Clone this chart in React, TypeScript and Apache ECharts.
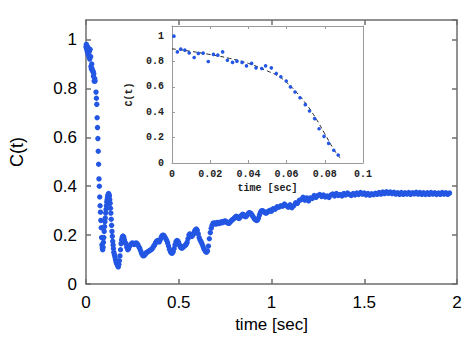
import React, { useEffect, useRef } from "react";
import * as echarts from "echarts";

// Main series: [time (s), C(t)]
const mainEarly: number[][] = [
  [0.0, 0.97], [0.002, 0.98], [0.004, 0.96], [0.007, 0.95], [0.009, 0.97], [0.011, 0.94],
  [0.013, 0.96], [0.016, 0.93], [0.018, 0.95], [0.02, 0.92], [0.022, 0.96], [0.025, 0.93],
  [0.027, 0.89], [0.029, 0.88], [0.031, 0.9], [0.033, 0.88], [0.036, 0.87], [0.038, 0.87],
  [0.04, 0.85], [0.042, 0.86], [0.044, 0.83], [0.047, 0.84], [0.049, 0.83],
  [0.054, 0.785], [0.056, 0.76], [0.058, 0.735], [0.06, 0.68], [0.062, 0.64], [0.064, 0.595],
  [0.066, 0.543], [0.068, 0.49], [0.07, 0.43], [0.072, 0.4], [0.074, 0.356], [0.076, 0.32],
  [0.078, 0.294], [0.08, 0.26], [0.082, 0.23], [0.084, 0.19], [0.086, 0.16], [0.088, 0.147],
];
const mainDip: number[][] = [
  [0.09, 0.14], [0.092, 0.15], [0.094, 0.17], [0.096, 0.19], [0.098, 0.215], [0.1, 0.235],
  [0.102, 0.255], [0.104, 0.27], [0.106, 0.29], [0.108, 0.305], [0.11, 0.32], [0.112, 0.335],
  [0.114, 0.345], [0.116, 0.355], [0.118, 0.362], [0.12, 0.367], [0.122, 0.37], [0.124, 0.365],
  [0.126, 0.36], [0.128, 0.345], [0.13, 0.33], [0.132, 0.31], [0.134, 0.29], [0.136, 0.265],
  [0.138, 0.24], [0.14, 0.215], [0.142, 0.195], [0.144, 0.175], [0.146, 0.16], [0.148, 0.145],
  [0.15, 0.13], [0.153, 0.12], [0.156, 0.11], [0.159, 0.1], [0.162, 0.09], [0.165, 0.085],
  [0.168, 0.08], [0.171, 0.075], [0.174, 0.07], [0.177, 0.08], [0.18, 0.095], [0.183, 0.115],
  [0.186, 0.14], [0.189, 0.165], [0.192, 0.18], [0.195, 0.19], [0.198, 0.195], [0.201, 0.195],
  [0.204, 0.19], [0.207, 0.18], [0.21, 0.17],
];
const mainMid: number[][] = [
  [0.215, 0.165], [0.22, 0.15], [0.225, 0.14], [0.23, 0.145], [0.235, 0.155], [0.24, 0.16],
  [0.245, 0.165], [0.25, 0.168], [0.255, 0.165], [0.26, 0.162], [0.265, 0.165], [0.27, 0.168],
  [0.275, 0.165], [0.28, 0.16], [0.285, 0.152], [0.29, 0.145], [0.295, 0.135], [0.3, 0.125],
  [0.305, 0.118], [0.31, 0.115], [0.315, 0.118], [0.32, 0.122], [0.325, 0.128], [0.33, 0.13],
  [0.335, 0.133], [0.34, 0.135], [0.345, 0.138], [0.35, 0.14], [0.355, 0.143], [0.36, 0.148],
  [0.365, 0.155], [0.37, 0.16], [0.375, 0.168], [0.38, 0.175], [0.385, 0.178], [0.39, 0.175],
  [0.395, 0.172], [0.4, 0.18], [0.405, 0.19], [0.41, 0.197], [0.415, 0.2], [0.42, 0.198],
  [0.425, 0.192], [0.43, 0.185], [0.435, 0.178], [0.44, 0.168], [0.445, 0.155], [0.45, 0.142],
  [0.455, 0.132], [0.46, 0.127], [0.465, 0.126], [0.47, 0.132], [0.475, 0.145], [0.48, 0.16],
  [0.485, 0.172], [0.49, 0.178], [0.495, 0.176], [0.5, 0.168], [0.505, 0.158], [0.51, 0.15],
  [0.515, 0.147], [0.52, 0.148], [0.525, 0.152], [0.53, 0.155], [0.535, 0.158], [0.54, 0.162],
  [0.545, 0.17], [0.55, 0.185], [0.555, 0.2], [0.56, 0.205], [0.565, 0.2], [0.57, 0.195],
  [0.575, 0.198], [0.58, 0.205], [0.585, 0.215], [0.59, 0.222], [0.595, 0.225], [0.6, 0.22],
  [0.605, 0.205], [0.61, 0.19], [0.615, 0.18], [0.62, 0.173], [0.625, 0.165], [0.63, 0.155],
  [0.635, 0.145], [0.64, 0.138], [0.645, 0.132], [0.65, 0.13], [0.655, 0.135], [0.66, 0.155],
  [0.665, 0.185], [0.67, 0.21], [0.675, 0.228], [0.68, 0.24], [0.685, 0.248], [0.69, 0.25],
  [0.695, 0.248], [0.7, 0.245],
];
const mainRise: number[][] = [
  [0.705, 0.25], [0.71, 0.252], [0.715, 0.247], [0.72, 0.249], [0.725, 0.253], [0.73, 0.25],
  [0.735, 0.255], [0.74, 0.252], [0.745, 0.256], [0.75, 0.258], [0.755, 0.255], [0.76, 0.252],
  [0.765, 0.25], [0.77, 0.248], [0.775, 0.252], [0.78, 0.256], [0.785, 0.26], [0.79, 0.263],
  [0.795, 0.266], [0.8, 0.27], [0.805, 0.274], [0.81, 0.277], [0.815, 0.275], [0.82, 0.27],
  [0.825, 0.268], [0.83, 0.272], [0.835, 0.278], [0.84, 0.282], [0.845, 0.285], [0.85, 0.283],
  [0.855, 0.278], [0.86, 0.275], [0.865, 0.278], [0.87, 0.283], [0.875, 0.288], [0.88, 0.292],
  [0.885, 0.29], [0.89, 0.288], [0.895, 0.282], [0.9, 0.276], [0.905, 0.27], [0.91, 0.265],
  [0.915, 0.262], [0.92, 0.26], [0.925, 0.262], [0.93, 0.27], [0.935, 0.282], [0.94, 0.292],
  [0.945, 0.298], [0.95, 0.3], [0.955, 0.298], [0.96, 0.295], [0.965, 0.292], [0.97, 0.29],
  [0.975, 0.292], [0.98, 0.296], [0.985, 0.298], [0.99, 0.3], [0.995, 0.302],
];
const mainLate: number[][] = [
  [1.0, 0.298], [1.01, 0.308], [1.02, 0.306], [1.03, 0.316], [1.04, 0.314], [1.05, 0.32],
  [1.06, 0.318], [1.07, 0.327], [1.08, 0.32], [1.09, 0.314], [1.1, 0.324], [1.11, 0.312],
  [1.12, 0.32], [1.13, 0.332], [1.14, 0.33], [1.15, 0.342], [1.16, 0.345], [1.17, 0.355],
  [1.18, 0.343], [1.19, 0.352], [1.2, 0.34], [1.21, 0.352], [1.22, 0.35], [1.23, 0.362],
  [1.24, 0.354], [1.25, 0.362], [1.26, 0.366], [1.27, 0.358], [1.28, 0.364], [1.29, 0.356],
  [1.3, 0.36], [1.31, 0.354], [1.32, 0.364], [1.33, 0.368], [1.34, 0.36], [1.35, 0.37],
  [1.36, 0.362], [1.37, 0.366], [1.38, 0.36], [1.39, 0.37], [1.4, 0.364], [1.41, 0.372],
  [1.42, 0.366], [1.43, 0.362], [1.44, 0.37], [1.45, 0.364], [1.46, 0.372], [1.47, 0.366],
  [1.48, 0.374], [1.49, 0.368], [1.5, 0.372], [1.51, 0.364], [1.52, 0.37], [1.53, 0.363],
  [1.54, 0.369], [1.55, 0.365], [1.56, 0.371], [1.57, 0.367], [1.58, 0.374], [1.59, 0.368],
  [1.6, 0.376], [1.61, 0.37], [1.62, 0.377], [1.63, 0.371], [1.64, 0.376], [1.65, 0.37],
  [1.66, 0.375], [1.67, 0.368], [1.68, 0.373], [1.69, 0.367], [1.7, 0.374], [1.71, 0.367],
  [1.72, 0.373], [1.73, 0.368], [1.74, 0.374], [1.75, 0.367], [1.76, 0.373], [1.77, 0.369],
  [1.78, 0.375], [1.79, 0.368], [1.8, 0.374], [1.81, 0.367], [1.82, 0.373], [1.83, 0.366],
  [1.84, 0.373], [1.85, 0.367], [1.86, 0.374], [1.87, 0.368], [1.88, 0.373], [1.89, 0.366],
  [1.9, 0.372], [1.91, 0.367], [1.92, 0.374], [1.93, 0.368], [1.94, 0.373], [1.95, 0.367],
  [1.96, 0.372],
];

// Inset: measured points and dashed fit
const insetPoints: number[][] = [
  [0.001, 1.0], [0.0028, 0.876], [0.0046, 0.898], [0.0067, 0.89], [0.009, 0.868],
  [0.0116, 0.832], [0.0138, 0.864], [0.0163, 0.866], [0.019, 0.8], [0.0217, 0.856],
  [0.024, 0.85], [0.0265, 0.876], [0.029, 0.81], [0.0317, 0.793], [0.034, 0.803],
  [0.0367, 0.793], [0.039, 0.766], [0.0417, 0.785], [0.044, 0.75], [0.047, 0.745],
  [0.049, 0.766], [0.052, 0.75], [0.0546, 0.706], [0.057, 0.68], [0.0598, 0.646],
  [0.062, 0.6], [0.0644, 0.56], [0.067, 0.514], [0.0698, 0.46], [0.072, 0.41],
  [0.0747, 0.35], [0.077, 0.27], [0.0796, 0.21], [0.082, 0.155], [0.0847, 0.1],
  [0.087, 0.063],
];
const insetFit: number[][] = [
  [0.0, 0.9], [0.01, 0.88], [0.02, 0.855], [0.03, 0.825], [0.04, 0.785], [0.05, 0.725],
  [0.055, 0.69], [0.06, 0.635], [0.065, 0.56], [0.07, 0.47], [0.075, 0.36], [0.08, 0.23],
  [0.085, 0.1], [0.088, 0.04],
];

const mainXTicks = { min: 0, max: 2, interval: 0.5 };
const yRange = { min: 0, max: 1.08, interval: 0.2 };
const insetXTicks = { min: 0, max: 0.1, interval: 0.02 };

const BLUE = "#2356e3";
const SANS = "Liberation Sans, Arial, Helvetica, sans-serif";
const MONO = "Liberation Mono, DejaVu Sans Mono, monospace";

const fmt = (v: number) => String(+v.toFixed(3));

const dotRenderer = (r: number) => (params: any, api: any) => {
  const p = api.coord([api.value(0), api.value(1)]);
  return {
    type: "circle",
    shape: { cx: p[0], cy: p[1], r },
    style: { fill: BLUE },
  };
};

export default function App() {
  const ref = useRef<HTMLDivElement>(null);
  useEffect(() => {
    if (!ref.current) return;
    const chart = echarts.init(ref.current, null, { renderer: "svg" });
    const mainLine = { show: true, onZero: false, lineStyle: { color: "#6e6e6e", width: 1.5 } };
    const mainTick = { show: true, inside: true, length: 5, lineStyle: { color: "#6e6e6e", width: 1.5 } };
    const insetLine = { show: true, onZero: false, lineStyle: { color: "#9a9a9a", width: 1 } };
    const insetTick = { show: true, inside: true, length: 3, lineStyle: { color: "#9a9a9a", width: 1 } };
    const mainLabel = { fontFamily: SANS, fontSize: 17, color: "#000", formatter: fmt };
    const insetLabel = { fontFamily: MONO, fontSize: 10, fontWeight: "bold", color: "#222", formatter: fmt };
    chart.setOption({
      animation: false,
      backgroundColor: "#fff",
      grid: [
        { left: 86, right: 17, top: 20, bottom: 71, show: false },
        { left: 172, top: 26, width: 191, height: 137, show: true, backgroundColor: "#fff", borderWidth: 0 },
      ],
      xAxis: [
        {
          type: "value", gridIndex: 0, position: "bottom", ...mainXTicks,
          axisLine: mainLine, axisTick: mainTick, splitLine: { show: false },
          axisLabel: { ...mainLabel, margin: 10 },
          name: "time [sec]", nameLocation: "middle", nameGap: 32,
          nameTextStyle: { fontFamily: SANS, fontSize: 17, color: "#000" },
        },
        {
          type: "value", gridIndex: 0, position: "top", ...mainXTicks,
          axisLine: mainLine, axisTick: mainTick, splitLine: { show: false }, axisLabel: { show: false },
        },
        {
          type: "value", gridIndex: 1, position: "bottom", ...insetXTicks,
          axisLine: insetLine, axisTick: insetTick, splitLine: { show: false },
          axisLabel: { ...insetLabel, margin: 6, showMaxLabel: true },
          name: "time [sec]", nameLocation: "middle", nameGap: 20,
          nameTextStyle: { fontFamily: MONO, fontSize: 10, fontWeight: "bold", color: "#222" },
        },
        {
          type: "value", gridIndex: 1, position: "top", ...insetXTicks,
          axisLine: insetLine, axisTick: insetTick, splitLine: { show: false }, axisLabel: { show: false },
        },
      ],
      yAxis: [
        {
          type: "value", gridIndex: 0, position: "left", ...yRange,
          axisLine: mainLine, axisTick: mainTick, splitLine: { show: false },
          axisLabel: { ...mainLabel, margin: 9, showMaxLabel: false },
          name: "C(t)", nameLocation: "middle", nameGap: 60,
          nameTextStyle: { fontFamily: SANS, fontSize: 18, color: "#000" },
        },
        {
          type: "value", gridIndex: 0, position: "right", ...yRange,
          axisLine: mainLine, axisTick: mainTick, splitLine: { show: false }, axisLabel: { show: false },
        },
        {
          type: "value", gridIndex: 1, position: "left", ...yRange,
          axisLine: insetLine, axisTick: insetTick, splitLine: { show: false },
          axisLabel: { ...insetLabel, margin: 8, showMaxLabel: false },
          name: "C(t)", nameLocation: "middle", nameGap: 38,
          nameTextStyle: { fontFamily: MONO, fontSize: 10, fontWeight: "bold", color: "#222" },
        },
        {
          type: "value", gridIndex: 1, position: "right", ...yRange,
          axisLine: insetLine, axisTick: { show: false }, splitLine: { show: false }, axisLabel: { show: false },
        },
      ],
      series: [
        {
          type: "custom", xAxisIndex: 0, yAxisIndex: 0,
          renderItem: dotRenderer(2.7),
          data: [...mainEarly, ...mainDip, ...mainMid, ...mainRise, ...mainLate],
        },
        {
          type: "line", xAxisIndex: 2, yAxisIndex: 2, showSymbol: false, smooth: true,
          lineStyle: { color: "#222", width: 1, type: [4, 3] }, data: insetFit, z: 2,
        },
        {
          type: "custom", xAxisIndex: 2, yAxisIndex: 2, z: 3,
          renderItem: dotRenderer(1.8), data: insetPoints,
        },
      ],
    });
    return () => chart.dispose();
  }, []);
  return (
    <div
      ref={ref}
      style={{ position: "fixed", left: 0, top: 0, width: 474, height: 355, background: "#fff" }}
    />
  );
}
